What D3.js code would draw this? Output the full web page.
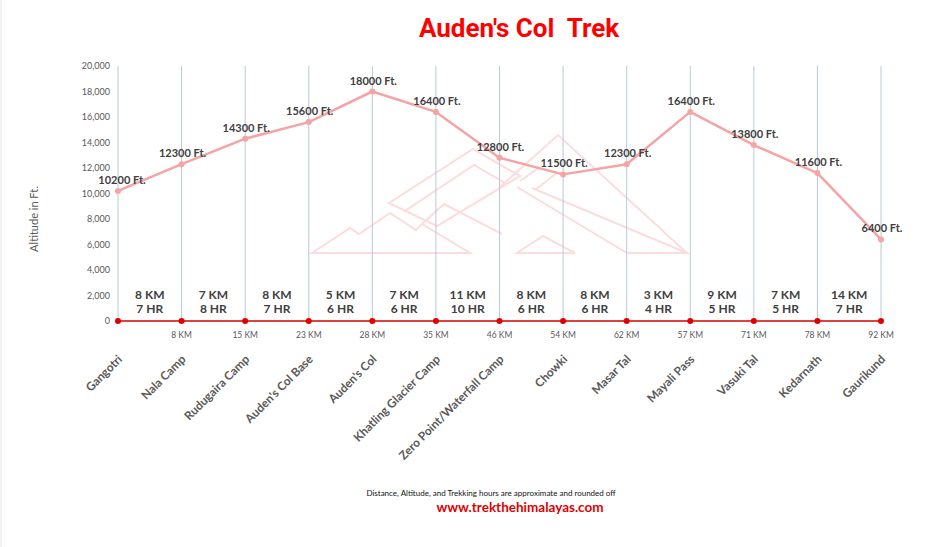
<!DOCTYPE html>
<html>
<head>
<meta charset="utf-8">
<script src="https://cdn.jsdelivr.net/npm/d3@7"></script>
<style>
  html, body { margin: 0; padding: 0; background: #fff; }
  svg { display: block; }
</style>
</head>
<body>
<svg id="chart" width="944" height="547"></svg>
<script>
// ---- Data ----
const categories = ["Gangotri", "Nala Camp", "Rudugaira Camp", "Auden's Col Base", "Auden's Col",
  "Khatling Glacier Camp", "Zero Point/Waterfall Camp", "Chowki", "Masar Tal", "Mayali Pass",
  "Vasuki Tal", "Kedarnath", "Gaurikund"];
const altitudes = [10200, 12300, 14300, 15600, 18000, 16400, 12800, 11500, 12300, 16400, 13800, 11600, 6400];
const kmMarks = ["", "8 KM", "15 KM", "23 KM", "28 KM", "35 KM", "46 KM", "54 KM", "62 KM", "57 KM", "71 KM", "78 KM", "92 KM"];
const segDistance = ["8 KM", "7 KM", "8 KM", "5 KM", "7 KM", "11 KM", "8 KM", "8 KM", "3 KM", "9 KM", "7 KM", "14 KM"];
const segHours = ["7 HR", "8 HR", "7 HR", "6 HR", "6 HR", "10 HR", "6 HR", "6 HR", "4 HR", "5 HR", "5 HR", "7 HR"];
const yTicks = [0, 2000, 4000, 6000, 8000, 10000, 12000, 14000, 16000, 18000, 20000];

const svg = d3.select("#chart");
const W = 944, H = 547;
const labelFont = "Lato, 'Open Sans', sans-serif";

// left border line
svg.append("line").attr("x1", 1).attr("x2", 1).attr("y1", 0).attr("y2", H)
  .attr("stroke", "#e6e6e6").attr("stroke-width", 1);

const x = d3.scalePoint().domain(categories).range([118, 881]);
const y = d3.scaleLinear().domain([0, 20000]).range([321, 66]);

// ---- Watermark (decorative logo) ----
const wm = svg.append("g").attr("fill", "none").attr("stroke", "#fcdcdc").attr("stroke-width", 2)
  .attr("stroke-linejoin", "miter");
const wmPaths = [
  "M312,253 L350,228 L359,234 L390,213 L416,230 L422,224 L470,253 Z",
  "M422,224 L444,204 L502,234",
  "M389,203 L473,149 L520,176 L437,226 Z",
  "M405,211 L474,165 L505,183",
  "M500,187 L558,135 L687,253 L627,253 L517,187",
  "M535,190 L558,172",
  "M540,167 L520,181",
  "M517,253 L543,236 L575,253 Z",
  "M532,188 L687,253"
];
wm.selectAll("path").data(wmPaths).join("path").attr("d", d => d);

// ---- Vertical drop lines ----
svg.append("g").selectAll("line").data(categories).join("line")
  .attr("x1", d => x(d)).attr("x2", d => x(d))
  .attr("y1", y(20000)).attr("y2", y(0))
  .attr("stroke", "#b9c9d8").attr("stroke-width", 1);

// ---- Y axis ----
const yAxis = d3.axisLeft(y).tickValues(yTicks).tickSize(0).tickPadding(3).tickFormat(d3.format(","));
const gy = svg.append("g").attr("transform", "translate(113,0)").call(yAxis);
gy.select(".domain").remove();
gy.selectAll("text").attr("font-family", labelFont).attr("font-size", 9).attr("fill", "#595959");

svg.append("text")
  .attr("transform", "translate(38,219) rotate(-90)")
  .attr("text-anchor", "middle")
  .attr("font-family", labelFont).attr("font-size", 11).attr("fill", "#595959")
  .text("Altitude in Ft.");

// ---- Baseline (zero series) ----
svg.append("path")
  .datum(categories)
  .attr("d", d3.line().x(d => x(d)).y(() => y(0)))
  .attr("fill", "none").attr("stroke", "#d40000").attr("stroke-width", 1.6);
svg.append("g").selectAll("circle").data(categories).join("circle")
  .attr("cx", d => x(d)).attr("cy", y(0)).attr("r", 3).attr("fill", "#e00000");

// ---- Altitude line ----
svg.append("path")
  .datum(altitudes)
  .attr("d", d3.line().x((d, i) => x(categories[i])).y(d => y(d)))
  .attr("fill", "none").attr("stroke", "#f4a4a4").attr("stroke-width", 2.5)
  .attr("stroke-linejoin", "round");
svg.append("g").selectAll("circle").data(altitudes).join("circle")
  .attr("cx", (d, i) => x(categories[i])).attr("cy", d => y(d)).attr("r", 3)
  .attr("fill", "#f4a4a4");

// ---- Altitude labels ----
svg.append("g").selectAll("text").data(altitudes).join("text")
  .attr("x", (d, i) => x(categories[i]) + (i === 0 ? 4 : 1))
  .attr("y", d => y(d) - 7)
  .attr("text-anchor", "middle")
  .attr("font-family", labelFont).attr("font-weight", "bold").attr("font-size", 11)
  .attr("fill", "#404040")
  .text(d => d + " Ft.");

// ---- Segment distance/hours labels ----
const segG = svg.append("g").attr("font-family", labelFont).attr("font-weight", "bold")
  .attr("font-size", 12).attr("fill", "#404040").attr("text-anchor", "middle");
segDistance.forEach((dist, i) => {
  const mx = (x(categories[i]) + x(categories[i + 1])) / 2;
  segG.append("text").attr("x", mx).attr("y", 299).text(dist);
  segG.append("text").attr("x", mx).attr("y", 313).text(segHours[i]);
});

// ---- Cumulative km labels ----
svg.append("g").selectAll("text").data(kmMarks).join("text")
  .attr("x", (d, i) => x(categories[i]))
  .attr("y", 338)
  .attr("text-anchor", "middle")
  .attr("font-family", labelFont).attr("font-size", 8.5).attr("fill", "#595959")
  .text(d => d);

// ---- Category labels ----
svg.append("g").selectAll("text").data(categories).join("text")
  .attr("transform", d => `translate(${x(d) + 5},${360}) rotate(-45)`)
  .attr("text-anchor", "end")
  .attr("font-family", labelFont).attr("font-weight", "bold").attr("font-size", 11.8)
  .attr("fill", "#595959")
  .text(d => d);

// ---- Title ----
svg.append("text")
  .attr("x", 519).attr("y", 37)
  .attr("text-anchor", "middle")
  .attr("font-family", "Roboto, sans-serif").attr("font-weight", "bold").attr("font-size", 26)
  .attr("fill", "#ff0000")
  .style("white-space", "pre")
  .text("Auden's Col  Trek");

// ---- Footer ----
svg.append("text")
  .attr("x", 491).attr("y", 496)
  .attr("text-anchor", "middle")
  .attr("font-family", labelFont).attr("font-size", 8).attr("fill", "#111")
  .text("Distance, Altitude, and Trekking hours are approximate and rounded off");
svg.append("text")
  .attr("x", 520).attr("y", 512)
  .attr("text-anchor", "middle")
  .attr("font-family", labelFont).attr("font-weight", "bold").attr("font-size", 13.5)
  .attr("fill", "#e00000")
  .text("www.trekthehimalayas.com");
</script>
</body>
</html>
